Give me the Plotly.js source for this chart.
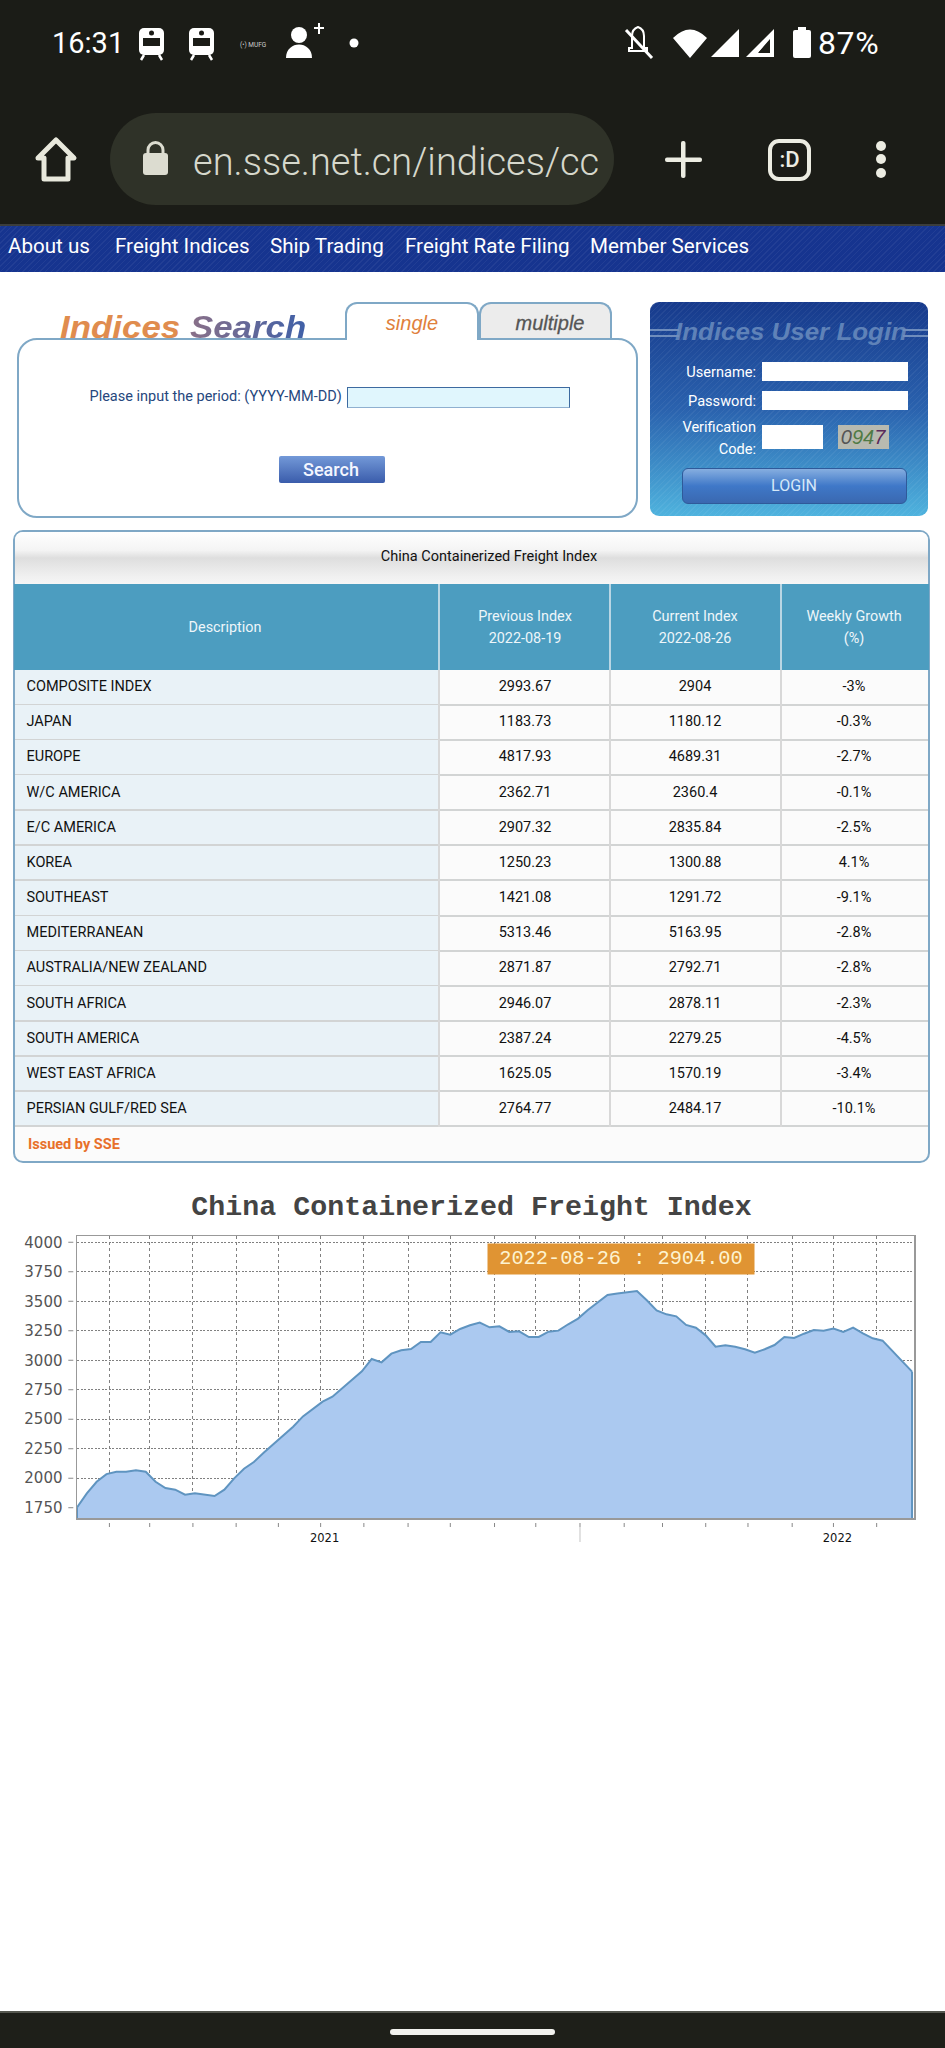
<!DOCTYPE html>
<html><head><meta charset="utf-8">
<script src="https://cdn.plot.ly/plotly-3.0.1.min.js"></script>
<style>
*{box-sizing:border-box}
html,body{margin:0;padding:0;width:945px;height:2048px;background:#fff;overflow:hidden;font-family:Roboto,sans-serif}
.a{position:absolute}
.t{position:absolute;white-space:nowrap;transform:translateY(-50%);line-height:1}
.c{position:absolute;white-space:nowrap;transform:translate(-50%,-50%);line-height:1}
.r{position:absolute;white-space:nowrap;transform:translate(-100%,-50%);line-height:1;color:#fff;font-size:14.6px}
.stripe{background-image:repeating-linear-gradient(135deg,rgba(255,255,255,.05) 0 1px,transparent 1px 4px)}
.in{position:absolute;background:#fff}
#rows div.cell{position:absolute;line-height:1;white-space:nowrap;transform:translateY(-50%);font-size:14.5px;color:#111}
#chart{position:absolute;left:0;top:1170px;width:945px;height:400px}
</style></head><body>
<div class="a" style="left:0;top:0;width:945px;height:224px;background:#1b1c17"></div>
<div class="t" style="left:52px;top:43px;font-size:29px;color:#fff">16:31</div>
<svg class="a" style="left:0;top:0" width="945" height="224" fill="#fff">
  <g id="tr"><rect x="139" y="28" width="25" height="27" rx="5"/><rect x="143" y="38" width="17" height="8" fill="#1b1c17"/><circle cx="151.500" cy="33" r="2.500" fill="#1b1c17"/><path d="M144 55l-3 5M159 55l3 5" stroke="#fff" stroke-width="2.500"/></g>
  <use href="#tr" x="50"/>
  <text x="240" y="47" font-size="6.500" font-family="Roboto" fill="#ccc">(•) MUFG</text>
  <circle cx="299" cy="35" r="8"/><path d="M286 58c0-18 26-18 26 0z"/><path d="M314 28h10M319 23v11" stroke="#fff" stroke-width="2"/>
  <circle cx="354" cy="43" r="4.500"/>
  <path d="M632 36q0-7 6-9q6 2 6 9v12h3v3h-18v-3h3z" fill="none" stroke="#fff" stroke-width="2"/><path d="M626 30l26 28" stroke="#fff" stroke-width="3"/>
  <path d="M673 38q17-17 34 0l-17 20zM680 37q10-7 20 0l-10 11z"/>
  <path d="M711 57l28-28v28z"/><path d="M746 57l28-28v28zM758 53h12v-14z" /><path d="M759 52h10v-11z" fill="#1b1c17"/>
  <rect x="793" y="30" width="18" height="28" rx="2"/><rect x="798" y="27" width="8" height="3"/>
  <path d="M38 158l18-18l18 18h-6v21h-24v-21z" fill="none" stroke="#e8e8dc" stroke-width="5" stroke-linejoin="round"/>
  <rect x="665" y="157.500" width="37" height="4.500" rx="2" fill="#ecece2"/><rect x="681" y="141" width="4.500" height="37" rx="2" fill="#ecece2"/>
  <rect x="770" y="141" width="39" height="38" rx="9" fill="none" stroke="#ecece2" stroke-width="4"/>
  <text x="789.500" y="167" font-size="22" font-weight="500" text-anchor="middle" font-family="Roboto" fill="#ecece2">:D</text>
  <circle cx="881" cy="146" r="5" fill="#ecece2"/><circle cx="881" cy="159" r="5" fill="#ecece2"/><circle cx="881" cy="173" r="5" fill="#ecece2"/>
</svg>
<div class="t" style="left:818px;top:43px;font-size:32px;letter-spacing:.6px;color:#fff">87%</div>
<div class="a" style="left:110px;top:113px;width:504px;height:92px;border-radius:46px;background:#2f3228"></div>
<svg class="a" style="left:140px;top:140px" width="32" height="38"><path d="M8 14v-4a7.500 7.500 0 0 1 15 0v4" fill="none" stroke="#dcdcd0" stroke-width="3"/><rect x="3" y="13" width="25" height="22" rx="3" fill="#dcdcd0"/></svg>
<div class="t" style="left:193px;top:162px;font-size:38px;color:#d6d8cc;font-weight:300" id="url">en.sse.net.cn/indices/cc</div>

<div class="a stripe" style="left:0;top:224px;width:945px;height:48px;background-color:#16348f;border-top:2px solid #3b3d3c"></div>
<div id="nav"></div>

<div class="t" style="left:60px;top:327px;font:italic 900 32px 'Liberation Sans';transform:translateY(-50%) scaleX(1.09);transform-origin:left"><span style="color:#e08c4e">Indices </span><span style="background:linear-gradient(90deg,#8a7088,#3f60a8);-webkit-background-clip:text;color:transparent">Search</span></div>
<div class="a" style="left:17px;top:338px;width:621px;height:180px;border:2px solid #7fa8c6;border-radius:20px;background:#fff"></div>
<div class="a" style="left:345px;top:302px;width:134px;height:38px;border:2px solid #7fa8c6;border-bottom:none;border-radius:12px 12px 0 0;background:#fff"></div>
<div class="a" style="left:479px;top:302px;width:133px;height:36px;border:2px solid #7fa8c6;border-bottom:none;border-radius:12px 12px 0 0;background:#ececec"></div>
<div class="c" style="left:412px;top:323px;font:italic 20px 'Liberation Sans';color:#e0803c">single</div>
<div class="c" style="left:550px;top:323px;font:italic 20px 'Liberation Sans';color:#555;-webkit-text-stroke:.3px #555">multiple</div>
<div class="t" style="left:89.500px;top:397px;font-size:14.5px;color:#26477d">Please input the period: (YYYY-MM-DD)</div>
<div class="a" style="left:347px;top:387px;width:223px;height:21px;background:#e0f6fd;border:1.5px solid #3d6aa0;border-bottom-color:#8fb0d0"></div>
<div class="a" style="left:279px;top:456px;width:106px;height:27px;border-radius:2px;background:linear-gradient(#7399d8,#3a5cab)"></div>
<div class="c" style="left:331px;top:470px;font-size:18px;color:#f4f6ff;font-weight:500">Search</div>

<div class="a" style="left:650px;top:302px;width:278px;height:214px;border-radius:9px;background-color:#1f4797;background-image:repeating-linear-gradient(135deg,rgba(255,255,255,.05) 0 1px,transparent 1px 4px),linear-gradient(#173a8c,#2a62ae 50%,#4fb3de)"></div>
<div class="c" style="left:791px;top:332px;font:italic bold 24px 'Liberation Sans';color:#5f82b8;transform:translate(-50%,-50%) scaleX(1.08)">Indices User Login</div>
<div class="a" style="left:650px;top:329px;width:29px;height:2px;background:#6f8dbd"></div><div class="a" style="left:650px;top:335px;width:29px;height:2px;background:#6f8dbd"></div>
<div class="a" style="left:903px;top:329px;width:25px;height:2px;background:#6f8dbd"></div><div class="a" style="left:903px;top:335px;width:25px;height:2px;background:#6f8dbd"></div>
<div class="r" style="left:756px;top:372px">Username:</div><div class="in" style="left:762px;top:362px;width:146px;height:19px"></div>
<div class="r" style="left:756px;top:401px">Password:</div><div class="in" style="left:762px;top:391px;width:146px;height:19px"></div>
<div class="r" style="left:756px;top:427px">Verification</div><div class="r" style="left:756px;top:449px">Code:</div>
<div class="in" style="left:762px;top:425px;width:61px;height:24px"></div>
<div class="a" style="left:838px;top:425px;width:51px;height:24px;background:#b8bab0"></div>
<div class="c" style="left:863px;top:437px;font:italic 20px 'Liberation Sans';color:#4f7a45"><span style="color:#555">0</span>94<span style="color:#5a2a5a">7</span></div>
<div class="a" style="left:682px;top:468px;width:225px;height:36px;border-radius:6px;background:linear-gradient(#86aee0,#3f78c8 50%,#3a68b0);border:1px solid #2f5a9a"></div>
<div class="c" style="left:794px;top:486px;font-size:16px;color:#d5e8f8">LOGIN</div>

<div class="a" style="left:13px;top:530px;width:917px;height:633px;border:2px solid #7fa8c6;border-radius:10px;background:#fbfbfb"></div>
<div class="a" style="left:15px;top:532px;width:913px;height:52px;border-radius:8px 8px 0 0;background:linear-gradient(#fff 0,#f4f4f4 35%,#dedede 50%,#f0f0f0 85%,#f6f6f6 100%)"></div>
<div class="c" id="tabTitle" style="left:489px;top:557px;font-size:14.5px;color:#111"></div>
<div class="a" style="left:14px;top:584px;width:915px;height:86px;background:#4c9dc0"></div>
<div id="head"></div>
<div id="rows"></div>
<div class="t" style="left:28px;top:1145px;font-size:14.5px;font-weight:700;color:#e8702a">Issued by SSE</div>

<div id="chart"></div>

<div class="a" style="left:0;top:2011px;width:945px;height:37px;background:#1e1f19;border-top:2.5px solid #55574f"></div>
<div class="a" style="left:390px;top:2028.500px;width:165px;height:6px;border-radius:3px;background:#f2f2ee"></div>

<script>
// ---------- table data ----------
const navItems = ["About us","Freight Indices","Ship Trading","Freight Rate Filing","Member Services"];
const tableTitle = "China Containerized Freight Index";
const headers = ["Description","Previous Index<br>2022-08-19","Current Index<br>2022-08-26","Weekly Growth<br>(%)"];
const routes = ["COMPOSITE INDEX","JAPAN","EUROPE","W/C AMERICA","E/C AMERICA","KOREA","SOUTHEAST","MEDITERRANEAN","AUSTRALIA/NEW ZEALAND","SOUTH AFRICA","SOUTH AMERICA","WEST EAST AFRICA","PERSIAN GULF/RED SEA"];
const previousIndex = ["2993.67","1183.73","4817.93","2362.71","2907.32","1250.23","1421.08","5313.46","2871.87","2946.07","2387.24","1625.05","2764.77"];
const currentIndex = ["2904","1180.12","4689.31","2360.4","2835.84","1300.88","1291.72","5163.95","2792.71","2878.11","2279.25","1570.19","2484.17"];
const weeklyGrowth = ["-3%","-0.3%","-2.7%","-0.1%","-2.5%","4.1%","-9.1%","-2.8%","-2.8%","-2.3%","-4.5%","-3.4%","-10.1%"];

// ---------- chart data ----------
const chartTitle = "China Containerized Freight Index";
const latestLabel = "2022-08-26 : 2904.00";
const ccfiWeekly = [1753,1872,1970,2035,2055,2055,2067,2055,1970,1917,1903,1860,1872,1860,1849,1903,1999,2081,2137,2216,2287,2366,2437,2524,2587,2649,2691,2762,2838,2906,3011,2982,3056,3084,3095,3155,3155,3237,3217,3265,3296,3319,3279,3288,3240,3245,3197,3197,3242,3251,3305,3353,3426,3491,3553,3565,3576,3587,3508,3423,3389,3372,3299,3276,3211,3115,3126,3115,3093,3064,3093,3129,3197,3189,3225,3256,3251,3268,3240,3276,3228,3186,3166,3078,2993.67,2904];
const yTicks = [1750,2000,2250,2500,2750,3000,3250,3500,3750,4000];
const xTickWeeks = [3.3,7.4,11.8,16.2,20.5,24.8,29.2,33.7,38,42.5,46.7,51.2,55.7,59.6,64,68.3,72.8,77,81.4];
const xTickText = ["","","","","","2021","","","","","","","","","","","","2022",""];
const xLongTickWeek = 51.2;

// ---------- page text ----------
const navX = [8,115,270,405,590];
document.getElementById('nav').innerHTML = navItems.map((s,i)=>`<div class="t" style="left:${navX[i]}px;top:246px;font-size:20.6px;color:#fff">${s}</div>`).join('');
document.getElementById('tabTitle').textContent = tableTitle;
const colEdges = [439,610,781];
const colCentre = [225,525,695,854];
document.getElementById('head').innerHTML = headers.map((s,i)=>`<div class="c" style="left:${colCentre[i]}px;top:628px;font-size:14.4px;color:#eef6fa;line-height:22px;text-align:center">${s}</div>`).join('')
  + colEdges.map(x=>`<div class="a" style="left:${x-1}px;top:584px;width:2px;height:86px;background:#b9d6e4"></div>`).join('');
const rowTop = 670, rowH = 35.15;
let h='';
routes.forEach((r,i)=>{
  const y=rowTop+i*rowH, m=y+rowH/2-0.4;
  h+=`<div class="a" style="left:15px;top:${y}px;width:424px;height:${rowH}px;background:#e9f2f7"></div>`;
  h+=`<div class="a" style="left:15px;top:${y+rowH-1.5}px;width:913px;height:2px;background:#d2d4d4"></div>`;
  h+=`<div class="cell" style="left:26.500px;top:${m}px">${r}</div>`;
  [previousIndex[i],currentIndex[i],weeklyGrowth[i]].forEach((v,k)=>{
    h+=`<div class="cell" style="left:${colCentre[k+1]}px;top:${m}px;transform:translate(-50%,-50%)">${v}</div>`;
  });
});
colEdges.forEach(x=>{h+=`<div class="a" style="left:${x-1}px;top:${rowTop}px;width:2px;height:${rowH*routes.length}px;background:#d8d8d8"></div>`});
document.getElementById('rows').innerHTML=h;

// ---------- plot ----------
const weeks = ccfiWeekly.map((_,i)=>i);
const last = weeks.length-1;
const W=837.3, H=282;
const yRange=[1663,4053], xRange=[0,85.2];
const tickLine={color:'#888',width:1};
const shapes=[];
xTickWeeks.forEach(x=>shapes.push({type:'line',xref:'x',yref:'paper',x0:x,x1:x,y0:-5/H,y1:-9/H,line:tickLine}));
yTicks.forEach(y=>shapes.push({type:'line',xref:'paper',yref:'y',x0:-8.7/W,x1:-3.7/W,y0:y,y1:y,line:tickLine}));
shapes.push({type:'line',xref:'x',yref:'paper',x0:xLongTickWeek,x1:xLongTickWeek,y0:-9/H,y1:-24/H,line:{color:'#c4c4c4',width:1}});
[0,last].forEach(i=>shapes.push({type:'line',xref:'x',yref:'y',x0:i,x1:i,y0:yRange[0],y1:ccfiWeekly[i],line:{color:'#5f94c0',width:2}}));
const base={gridcolor:'#808080',gridwidth:1,showline:true,linecolor:'#999',linewidth:1.5,mirror:true,zeroline:false,ticks:''};
Plotly.newPlot('chart',[{
  x:weeks,y:ccfiWeekly,type:'scatter',mode:'lines',fill:'tozeroy',fillcolor:'#abc9f0',
  line:{color:'#5f94c0',width:2,shape:'linear'},hoverinfo:'skip'
}],{
  width:945,height:400,autosize:false,showlegend:false,
  margin:{l:76.7,r:31,t:66,b:52,pad:0},
  paper_bgcolor:'rgba(0,0,0,0)',plot_bgcolor:'#fff',
  title:{text:chartTitle,font:{family:'Liberation Mono',size:28.300,color:'#444',weight:700},x:0.499,xref:'container',xanchor:'center',y:0.913,yref:'container',yanchor:'middle'},
  xaxis:Object.assign({},base,{griddash:'3px,3px',range:xRange,tickmode:'array',tickvals:xTickWeeks,ticktext:xTickText,tickfont:{family:'DejaVu Sans',size:11.500,color:'#111'},ticklabelstandoff:9,ticklabelshift:4,tickangle:0}),
  yaxis:Object.assign({},base,{griddash:'2px,1.5px',range:yRange,tickmode:'array',tickvals:yTicks,ticktext:yTicks.map(String),tickfont:{family:'DejaVu Sans',size:15,color:'#555'},ticklabelstandoff:10}),
  shapes:shapes,
  annotations:[{xref:'paper',yref:'paper',x:(620.8-76.7)/W,y:(1518-1259)/H,xanchor:'center',yanchor:'middle',text:latestLabel,showarrow:false,
    font:{family:'Liberation Mono',size:20.300,color:'#fdf3d0'},bgcolor:'#e09433',width:264,height:27.5,align:'center'}]
},{staticPlot:true,displayModeBar:false});
</script>
</body></html>
